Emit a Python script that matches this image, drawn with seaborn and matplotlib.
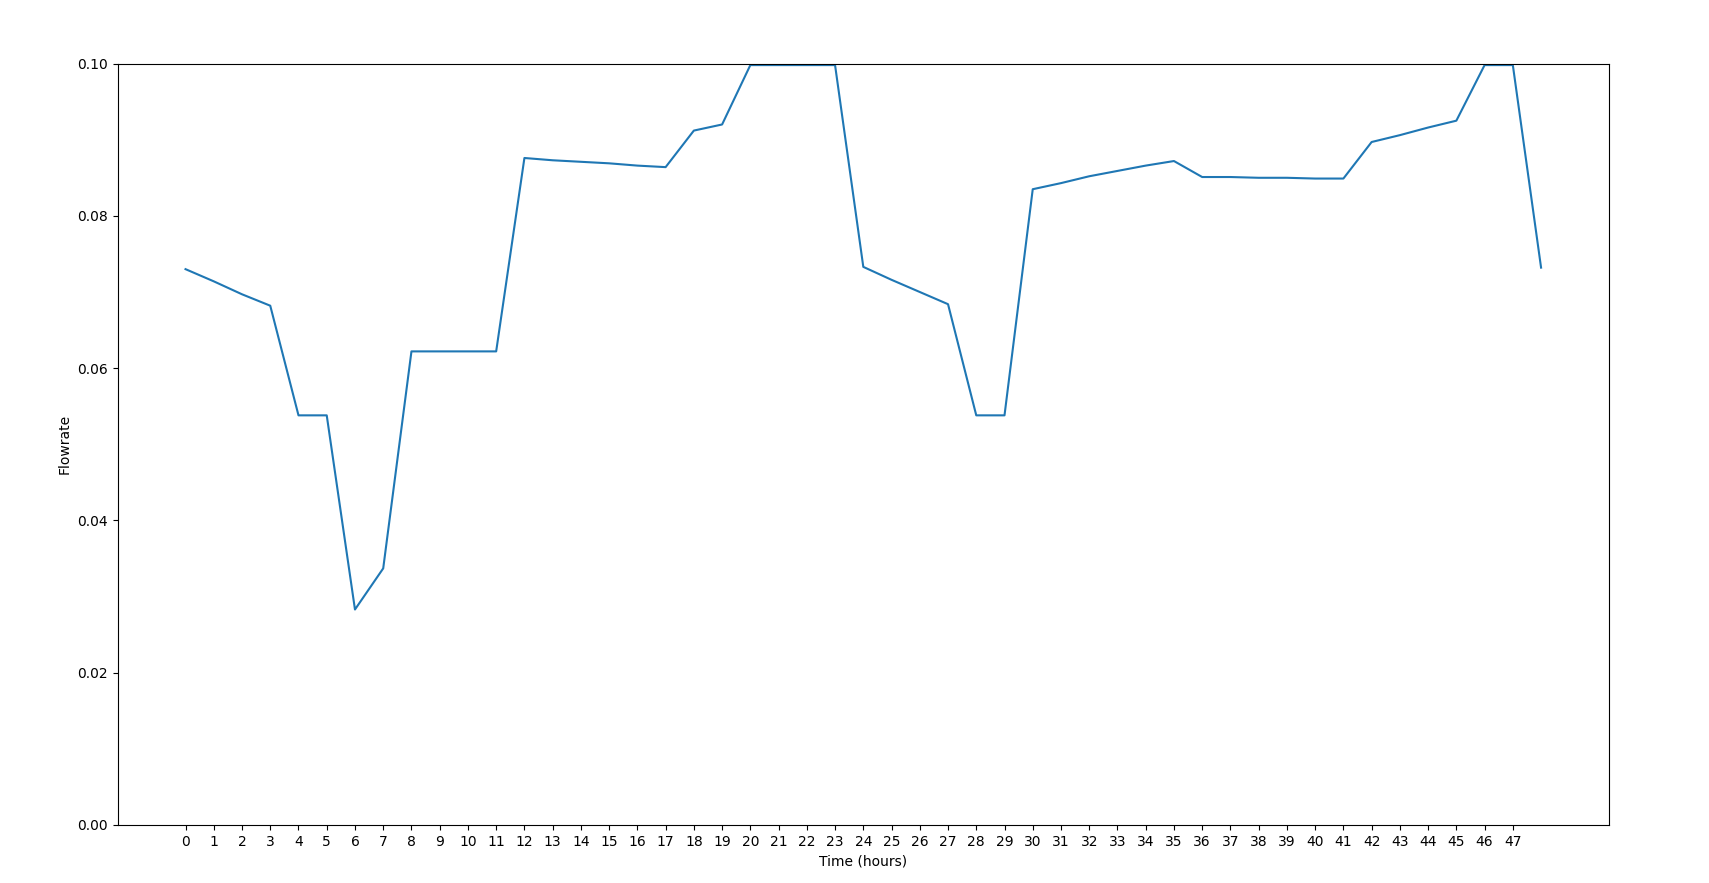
import matplotlib
matplotlib.use("Agg")
import matplotlib.pyplot as plt
import seaborn as sns
import pandas as pd

hours = list(range(49))
flowrate = [
    0.0730, 0.0714, 0.0697, 0.0682, 0.0538, 0.0538, 0.0283, 0.0337, 0.0622, 0.0622,
    0.0622, 0.0622, 0.0876, 0.0873, 0.0871, 0.0869, 0.0866, 0.0864, 0.0912, 0.0920,
    0.0998, 0.0998, 0.0998, 0.0998, 0.0733, 0.0716, 0.0700, 0.0684, 0.0538, 0.0538,
    0.0835, 0.0843, 0.0852, 0.0859, 0.0866, 0.0872, 0.0851, 0.0851, 0.0850, 0.0850,
    0.0849, 0.0849, 0.0897, 0.0906, 0.0916, 0.0925, 0.0998, 0.0998, 0.0732,
]
xtick_labels = list(range(48))

df = pd.DataFrame({"Time (hours)": hours, "Flowrate": flowrate})

fig = plt.figure(figsize=(17.09, 8.83), dpi=100)
ax = fig.add_axes([0.0689, 0.0657, 0.9414 - 0.0689, 0.928 - 0.0657])
sns.lineplot(data=df, x="Time (hours)", y="Flowrate", ax=ax, color="#1f77b4", linewidth=1.5)
ax.set_ylim(0, 0.1)
ax.set_xticks(xtick_labels)
ax.set_xticklabels([str(t) for t in xtick_labels])
ax.set_xlabel("Time (hours)")
ax.set_ylabel("Flowrate")
fig.savefig("out.png", dpi=100)
